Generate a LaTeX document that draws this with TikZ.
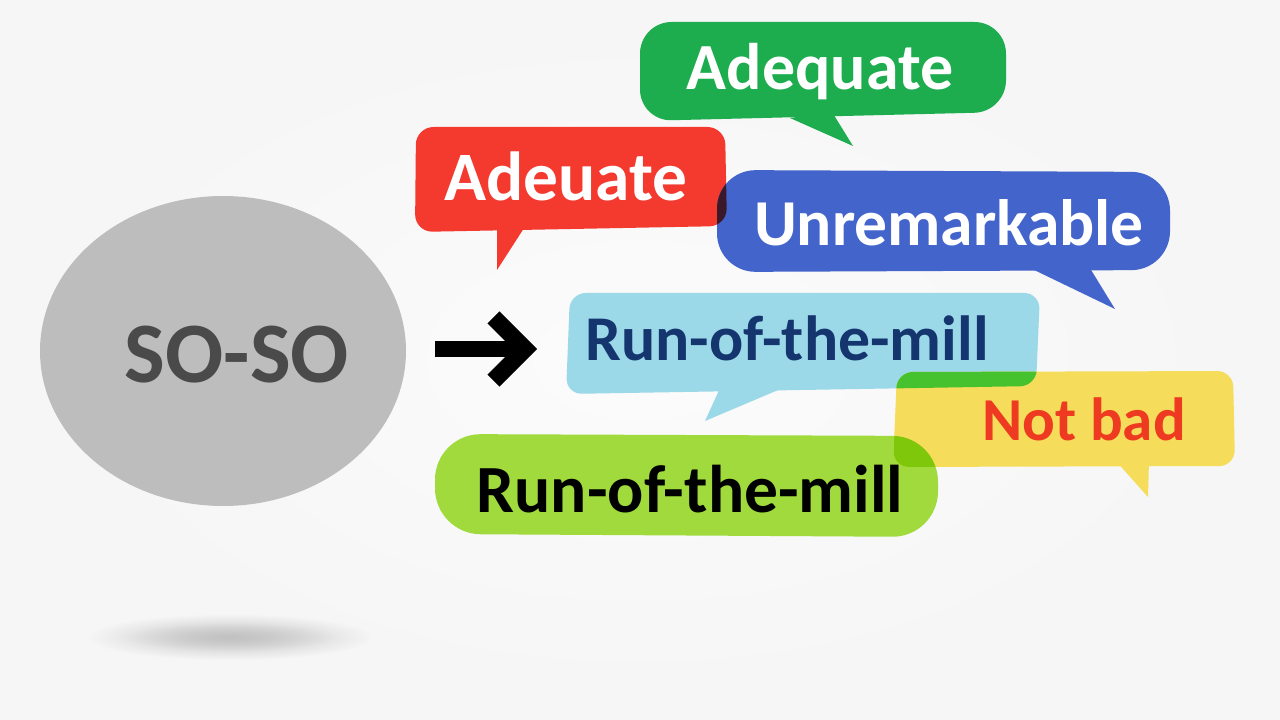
\documentclass[tikz,border=0pt]{standalone}
\usepackage{fontspec}
\usepackage{tikz}
\usetikzlibrary{arrows.meta,fadings}
\setmainfont{Carlito}
\definecolor{bggray}{HTML}{F8F8F8}
\definecolor{sogray}{HTML}{BDBDBD}
\definecolor{sotext}{HTML}{4A4A4A}
\definecolor{bubblegreen}{HTML}{1DAD4F}
\definecolor{bubblered}{HTML}{F4392F}
\definecolor{bubbleblue}{HTML}{4364CB}
\definecolor{bubblecyan}{HTML}{9BD8E8}
\definecolor{bubbleyellow}{HTML}{F5DC5A}
\definecolor{bubblelime}{HTML}{A0DA3C}
\definecolor{darknavy}{HTML}{15356F}
\definecolor{notbadred}{HTML}{EE3A20}
\definecolor{overlapdark}{HTML}{3A1A2A}
\definecolor{overlapgreen}{HTML}{46C22E}
\definecolor{overlaplime}{HTML}{7EC70A}
\tikzfading[name=shadowfade, inner color=transparent!0, outer color=transparent!100]
\tikzset{bubbletext/.style={font=\fontsize{#1}{#1}\selectfont\bfseries}}
\def\redpath{(416,127) -- (725,127) -- (727,226) -- (415,232) -- cycle}
\def\bluepath{(717,170) -- (1170,172) -- (1170,270) -- (717,272) -- cycle}
\def\cyanpath{(570,293) -- (1040,293) -- (1036,386) -- (566,394) -- cycle}
\def\yellowpath{(897,372) -- (1233,371) -- (1235,466) -- (893,467) -- cycle}
\def\limepath{(435,434) -- (938,436) -- (938,537) -- (435,534) -- cycle}
\begin{document}
\begin{tikzpicture}[x=0.2mm,y=-0.2mm]
    \tikzstyle{every node}+=[inner sep=0pt]
    \useasboundingbox (0,0) rectangle (1280,720);
    \shade [inner color=bggray!50!white, outer color=bggray!99!black] (0,0) rectangle (1280,720);
    % shadow
    \fill [black!24, path fading=shadowfade] (230,637) ellipse (142 and 23);
    \fill [black!24, opacity=0.6, path fading=shadowfade] (230,637) ellipse (105 and 14);
    \fill [sogray] (223,351) ellipse (183 and 155);
    % bubbles
    \fill [bubblegreen, rounded corners=18pt] (640,22) -- (1006,22) -- (1006,112) -- (640,121) -- cycle;
    \fill [bubblegreen] (790,118) -- (853,146) -- (832,112) -- cycle;
    \fill [bubblered, rounded corners=10pt] \redpath;
    \fill [bubblered] (497,225) -- (497,270) -- (526,225) -- cycle;
    \fill [bubbleblue, rounded corners=22pt] \bluepath;
    \fill [bubbleblue] (1030,268) -- (1115,309) -- (1088,265) -- cycle;
    \fill [bubblecyan, rounded corners=9pt] \cyanpath;
    \fill [bubblecyan] (720,388) -- (705,421) -- (790,385) -- cycle;
    \fill [bubblelime, rounded corners=26pt] \limepath;
    \fill [bubbleyellow, rounded corners=9pt] \yellowpath;
    \fill [bubbleyellow] (1115,460) -- (1148,497) -- (1149,460) -- cycle;
    % overlaps
    \begin{scope}
    \clip [rounded corners=10pt] \redpath;
    \fill [overlapdark, rounded corners=22pt] \bluepath;
    \end{scope}
    \begin{scope}
    \clip [rounded corners=9pt] \yellowpath;
    \fill [overlapgreen, rounded corners=9pt] \cyanpath;
    \fill [overlaplime, rounded corners=26pt] \limepath;
    \end{scope}
    \coordinate (arrowstart) at (435,349);
    \coordinate (arrowend) at (537,349);
    \draw [black, line width=9.6pt, -{Straight Barb[length=18pt,width=36pt]}] (arrowstart) -- (arrowend);
    % labels
    \draw (237,355) node [bubbletext=49, text=sotext] (soso) {SO-SO};
    \draw (820,72) node [bubbletext=37.5, text=white] (adequate) {Adequate};
    \draw (566,176) node [bubbletext=39.5, text=white] (adeuate) {Adeuate};
    \draw (949,223) node [bubbletext=37.3, text=white] (unremarkable) {Unremarkable};
    \draw (787,338) node [bubbletext=36.3, text=darknavy] (runcyan) {Run-of-the-mill};
    \draw (690,489) node [bubbletext=38.4, text=black] (runlime) {Run-of-the-mill};
    \draw (1084,419) node [bubbletext=34.7, text=notbadred] (notbad) {Not bad};
\end{tikzpicture}
\end{document}
